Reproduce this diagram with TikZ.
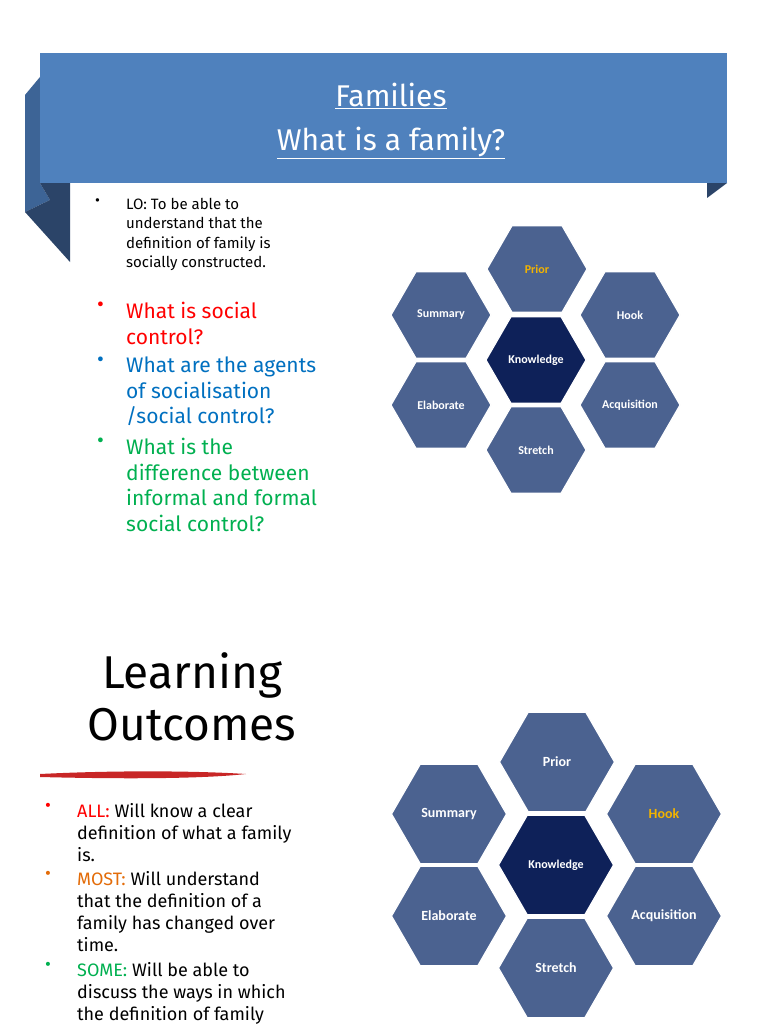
\documentclass[tikz,border=0pt]{standalone}
\usepackage{fontspec}
\setmainfont{Fira Sans}
\newfontfamily\hexfont{Carlito}
\usetikzlibrary{shapes.geometric}
\definecolor{banner}{HTML}{4F81BD}
\definecolor{bannerdark}{HTML}{2B4468}
\definecolor{bannermid}{HTML}{3D6496}
\definecolor{hexc}{HTML}{4B6290}
\definecolor{hexk}{HTML}{0E2159}
\definecolor{qred}{HTML}{FF0000}
\definecolor{qblue}{HTML}{0070C0}
\definecolor{qgreen}{HTML}{00B050}
\definecolor{qorange}{HTML}{E36C09}
\definecolor{hy}{HTML}{F2B300}
\tikzset{
  hx/.style={regular polygon,regular polygon sides=6,shape border rotate=0,fill=hexc,draw=white,line width=1.2pt,inner sep=0pt,text=white,font=\hexfont\bfseries},
  hxa/.style={hx,minimum size=#1},
  txt/.style={anchor=north west,align=left,inner sep=0pt}
}
\begin{document}
\begin{tikzpicture}[x=1pt,y=-1pt]
\useasboundingbox (0,0) rectangle (768,1024);
\fill[white] (0,0) rectangle (768,1024);
% banner folds
\fill[bannermid] (25,95) -- (40,77) -- (40,183) -- (50,200) -- (25,212) -- cycle;
\fill[bannerdark] (25,212) -- (50,200) -- (40,183) -- (70,183) -- (70,262) -- cycle;
\fill[bannerdark] (707,183) -- (727,183) -- (707,198) -- cycle;
\fill[banner] (40,53) rectangle (727,183);
\node[text=white,font=\fontsize{30}{44}\selectfont,align=center] (title) at (391,121) {\underline{Families}\\\underline{What is a family?}};
% top text
\node[txt,font=\fontsize{15}{19.5}\selectfont] (b0) at (95,198) {•};
\node[txt,font=\fontsize{15}{19.5}\selectfont] (lo) at (126,198) {LO: To be able to\\understand that the\\definition of family is\\socially constructed.};
\begin{scope}[font=\fontsize{21}{25.5}\selectfont]
\node[txt,text=qred] (q1b) at (97,302) {•};
\node[txt,text=qred] (q1) at (126,302) {What is social\\control?};
\node[txt,text=qblue] (q2b) at (97,357) {•};
\node[txt,text=qblue] (q2) at (126,357) {What are the agents\\of socialisation\\/social control?};
\node[txt,text=qgreen] (q3b) at (97,438) {•};
\node[txt,text=qgreen] (q3) at (126,438) {What is the\\difference between\\informal and formal\\social control?};
\end{scope}
% top hexagons
\begin{scope}[every node/.style={hxa=100pt,font=\hexfont\bfseries\fontsize{12}{14}\selectfont}]
\node[fill=hexk] (k1) at (536,360) {Knowledge};
\node[text=hy] (p1) at (537,269) {Prior};
\node (s1) at (441,315) {Summary};
\node (h1) at (630,315) {Hook};
\node (e1) at (441,405) {Elaborate};
\node (a1) at (630,405) {Acquisition};
\node (st1) at (536,450) {Stretch};
\end{scope}
% Learning outcomes
\node[font=\fontsize{46}{52}\selectfont,align=center] (lo2) at (192,697) {Learning\\Outcomes};
\fill[red!75!black,opacity=0.85] (40,774) .. controls (120,770) and (200,771) .. (246,774) .. controls (200,779) and (120,779) .. (40,777) -- cycle;
\begin{scope}[font=\fontsize{18}{22}\selectfont]
\node[txt,text=qred] (c1b) at (45,803) {•};
\node[txt] (c1) at (77,803) {\textcolor{qred}{ALL:} Will know a clear\\definition of what a family\\is.};
\node[txt,text=qorange] (c2b) at (45,871) {•};
\node[txt] (c2) at (77,871) {\textcolor{qorange}{MOST:} Will understand\\that the definition of a\\family has changed over\\time.};
\node[txt,text=qgreen] (c3b) at (45,962) {•};
\node[txt] (c3) at (77,962) {\textcolor{qgreen}{SOME:} Will be able to\\discuss the ways in which\\the definition of family};
\end{scope}
% bottom hexagons
\begin{scope}[every node/.style={hxa=115pt,font=\hexfont\bfseries\fontsize{14}{16}\selectfont}]
\node[fill=hexk,font=\hexfont\bfseries\fontsize{12}{14}\selectfont] (k2) at (556,865) {Knowledge};
\node (p2) at (557,762) {Prior};
\node (s2) at (449,814) {Summary};
\node[text=hy] (h2) at (664,814) {Hook};
\node (e2) at (449,916) {Elaborate};
\node (a2) at (664,916) {Acquisition};
\node (st2) at (556,968) {Stretch};
\end{scope}
\end{tikzpicture}
\end{document}
